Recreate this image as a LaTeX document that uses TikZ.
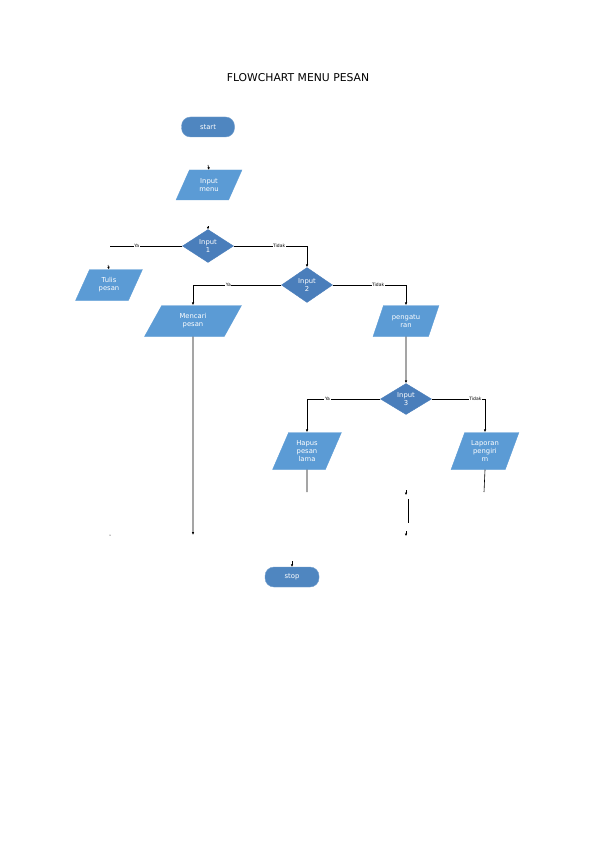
\documentclass[tikz,border=0pt]{standalone}
\usepackage{fontspec}
\setmainfont{DejaVu Sans}
\usetikzlibrary{shapes.geometric,arrows.meta}
\definecolor{termc}{HTML}{4F86C0}
\definecolor{ioc}{HTML}{5B9BD5}
\definecolor{decc}{HTML}{4A7EBB}
\tikzset{
  term/.style={draw=termc!80!white, fill=termc, rounded corners=9pt, minimum width=53pt, minimum height=20pt, inner sep=0pt, text=white, font=\fontsize{6.8}{7.5}\selectfont},
  iobox/.style={trapezium, trapezium left angle=63, trapezium right angle=117, trapezium stretches=true, fill=ioc, draw=ioc, inner sep=0pt, text=white, align=center, font=\fontsize{6.8}{8}\selectfont, minimum height=30pt},
  dec/.style={diamond, fill=decc, draw=decc, inner sep=0pt, text=white, align=center, font=\fontsize{6.8}{8}\selectfont, minimum width=51pt, minimum height=33pt},
  conn/.style={draw=black, line width=0.6pt},
  arr/.style={conn, -{Latex[length=3pt,width=2.6pt]}},
  lab/.style={fill=white, inner sep=0.6pt, font=\fontsize{4.5}{4.5}\selectfont, text=black},
  stub/.style={draw=black, line width=0.6pt, -{Latex[length=2.5pt,width=2.6pt]}}
}
\begin{document}
\begin{tikzpicture}[x=1pt,y=-1pt]
\useasboundingbox[fill=white] (0,0) rectangle (595,842);

\node[font=\fontsize{10.8}{12}\selectfont] (title) at (298,78) {FLOWCHART MENU PESAN};

\node[term] (start) at (208,127) {start};
\node[iobox, minimum width=66pt] (inmenu) at (209,185) {Input\\menu};
\node[dec] (d1) at (208,246) {Input\\1};
\node[iobox, minimum width=67pt, minimum height=31pt] (tulis) at (109,285) {Tulis\\pesan};
\node[dec, minimum height=35pt] (d2) at (307,285) {Input\\2};
\node[iobox, minimum width=97pt, minimum height=31pt] (mencari) at (193,321) {Mencari\\pesan};
\node[iobox, minimum width=66pt, minimum height=31pt] (atur) at (406,321) {pengatu\\ran};
\node[dec, minimum height=31pt] (d3) at (406,399) {Input\\3};
\node[iobox, minimum width=69pt, minimum height=37pt, trapezium left angle=66, trapezium right angle=114] (hapus) at (307,451) {Hapus\\pesan\\lama};
\node[iobox, minimum width=68pt, minimum height=37pt, trapezium left angle=66, trapezium right angle=114] (lapor) at (485,451) {Laporan\\pengiri\\m};
\node[term, minimum width=54pt] (stop) at (292,577) {stop};

% free ends and marks
\coordinate (c1) at (110,246);
\coordinate (c2) at (193,535);
\coordinate (c3) at (307,492);
\coordinate (c4) at (484,492);
\coordinate (m1) at (208,165);
\coordinate (m2) at (208,226);
\coordinate (m3) at (108,265);
\coordinate (m4) at (292,561);
\coordinate (m5a) at (406,490);
\coordinate (m5b) at (406,495);
\coordinate (m6a) at (408,499);
\coordinate (m6b) at (408,523);
\coordinate (m7a) at (406,531);
\coordinate (m7b) at (406,536);
\coordinate (dot) at (110,535);

% marks (stub arrow tips)
\draw[stub] (m1) -- (inmenu.north);
\draw[stub] (m2) -- (d1.north);
\draw[stub] (m3) -- (tulis.north);
\draw[stub] (m4) -- (stop.north);
\draw[stub] (m5a) -- (m5b);
\draw[conn] (m6a) -- (m6b);
\draw[stub] (m7a) -- (m7b);
\fill (dot) circle (0.5pt);

% connectors
\draw[conn] (d1.west) -- node[lab, pos=0.63] {Ya} (c1);
\draw[arr] (d1.east) -| node[lab, pos=0.31] {Tidak} (d2.north);
\draw[arr] (d2.west) -| node[lab, pos=0.30] {Ya} (mencari.north);
\draw[arr] (d2.east) -| node[lab, pos=0.31] {Tidak} (atur.north);
\draw[arr] (mencari.south) -- (c2);
\draw[arr] (atur.south) -- (d3.north);
\draw[arr] (d3.west) -| node[lab, pos=0.36] {Ya} (hapus.north);
\draw[arr] (d3.east) -| node[lab, pos=0.41] {Tidak} (lapor.north);
\draw[conn] (hapus.south) -- (c3);
\draw[conn] (lapor.south) -- (c4);
\end{tikzpicture}
\end{document}
